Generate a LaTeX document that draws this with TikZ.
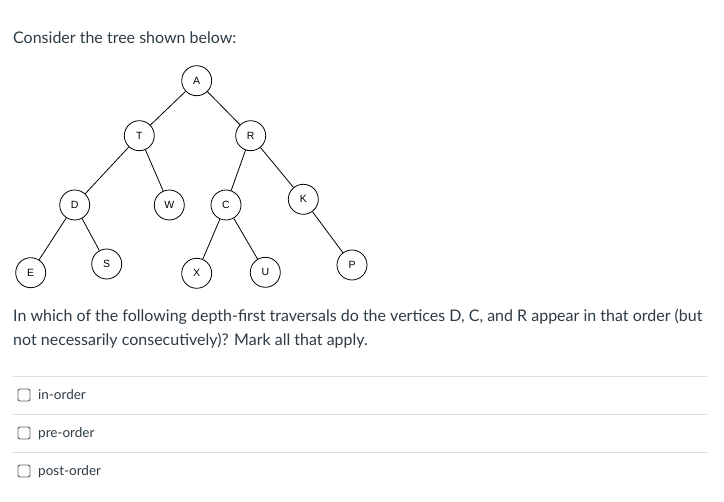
\documentclass[tikz,border=0pt]{standalone}
\usepackage{fontspec}
\setmainfont{Lato}
\newfontfamily\nodefont{Liberation Sans}
\definecolor{txt}{HTML}{2D3B45}
\definecolor{rule}{HTML}{DDDDDD}
\begin{document}
\begin{tikzpicture}[x=1pt,y=-1pt,
  vtx/.style={circle,draw=black,line width=0.8pt,minimum size=30pt,inner sep=0pt,font=\nodefont\fontsize{10.5}{12}\selectfont},
  edge/.style={line width=0.8pt,black},
  body/.style={anchor=base west,inner sep=0pt,text=txt,font=\fontsize{16}{24}\selectfont},
  opt/.style={anchor=base west,inner sep=0pt,text=txt,font=\fontsize{13.5}{16}\selectfont},
  sep/.style={draw=rule,line width=1pt},
  cbox/.style={draw=txt!80,line width=0.9pt,rounded corners=2pt,minimum size=12pt,inner sep=0pt}]
\useasboundingbox (0,0) rectangle (724,502);
\node[body] (t1) at (13,44) {Consider the tree shown below:};
\node (A) [vtx] at (196.7,80.7) {A};
\node (T) [vtx] at (139.3,135.7) {T};
\node (R) [vtx] at (250.7,135.7) {R};
\node (D) [vtx] at (74.7,205) {D};
\node (W) [vtx] at (169.3,205) {W};
\node (C) [vtx] at (226,205) {C};
\node (K) [vtx] at (303.3,199.3) {K};
\node (E) [vtx] at (30.7,272.7) {E};
\node (S) [vtx] at (106.7,264) {S};
\node (X) [vtx] at (196.7,273.3) {X};
\node (U) [vtx] at (265.3,272.3) {U};
\node (P) [vtx] at (352,265) {P};
\draw[edge] (A) -- (T);
\draw[edge] (A) -- (R);
\draw[edge] (T) -- (D);
\draw[edge] (T) -- (W);
\draw[edge] (R) -- (C);
\draw[edge] (R) -- (K);
\draw[edge] (D) -- (E);
\draw[edge] (D) -- (S);
\draw[edge] (C) -- (X);
\draw[edge] (C) -- (U);
\draw[edge] (K) -- (P);
\node[body] (q1) at (13,322) {In which of the following depth-first traversals do the vertices D, C, and R appear in that order (but};
\node[body] (q2) at (13,346) {not necessarily consecutively)? Mark all that apply.};
\coordinate (l1a) at (13,376.5); \coordinate (l1b) at (707,376.5);
\coordinate (l2a) at (13,414.5); \coordinate (l2b) at (707,414.5);
\coordinate (l3a) at (13,452.5); \coordinate (l3b) at (707,452.5);
\draw[sep] (l1a) -- (l1b);
\draw[sep] (l2a) -- (l2b);
\draw[sep] (l3a) -- (l3b);
\node[cbox] (c1) at (24,395) {};
\node[cbox] (c2) at (24,433) {};
\node[cbox] (c3) at (24,471) {};
\node[opt] (o1) at (38,400) {in-order};
\node[opt] (o2) at (38,438) {pre-order};
\node[opt] (o3) at (38,476) {post-order};
\end{tikzpicture}
\end{document}
